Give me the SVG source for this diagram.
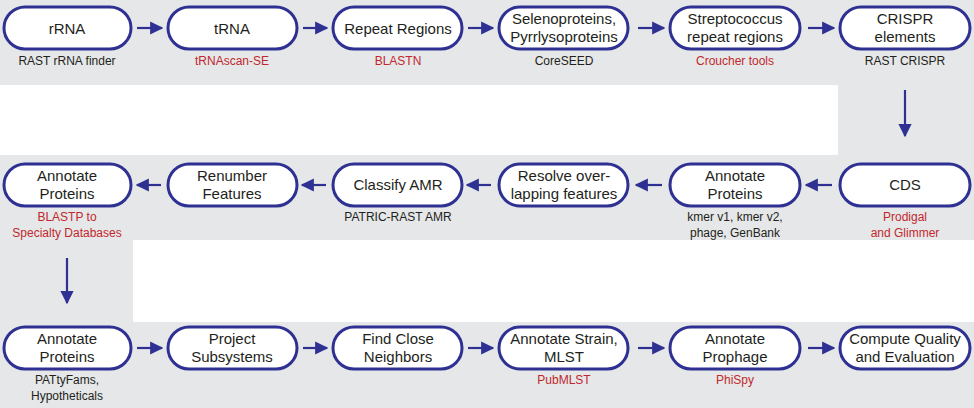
<svg xmlns="http://www.w3.org/2000/svg" width="974" height="408" viewBox="0 0 974 408">
<defs>
<marker id="ah" viewBox="0 0 10 10" refX="9" refY="5" markerWidth="6" markerHeight="6" orient="auto"><path d="M0,0 L10,5 L0,10 z" fill="#2e3192"/></marker>
<style>
.n{fill:#fff;stroke:#2e3192;stroke-width:3}
.t{font-family:"Liberation Sans",Arial,sans-serif;font-size:15px;fill:#231f20;text-anchor:middle}
.l{font-family:"Liberation Sans",Arial,sans-serif;font-size:12px;fill:#231f20;text-anchor:middle}
.r{fill:#c1272d}
.c{stroke:#2e3192;stroke-width:2.2;fill:none;marker-end:url(#ah)}
</style>
</defs>
<rect width="974" height="408" fill="#e6e7e8"/>
<rect x="0" y="85" width="838" height="70" fill="#fff"/>
<rect x="133" y="240" width="841" height="82" fill="#fff"/>
<g id="n1"><rect class="n" x="4" y="7" width="127" height="42" rx="21"/><text class="t" x="67" y="34">rRNA</text><text class="l" x="67" y="65">RAST rRNA finder</text></g>
<g id="n2"><rect class="n" x="168" y="7" width="129" height="42" rx="21"/><text class="t" x="232" y="34">tRNA</text><text class="l r" x="232" y="65">tRNAscan-SE</text></g>
<g id="n3"><rect class="n" x="333" y="7" width="129" height="42" rx="21"/><text class="t" x="398" y="34">Repeat Regions</text><text class="l r" x="398" y="65">BLASTN</text></g>
<g id="n4"><rect class="n" x="499" y="7" width="129" height="42" rx="21"/><text class="t" x="564" y="24">Selenoproteins,</text><text class="t" x="564" y="42">Pyrrlysoproteins</text><text class="l" x="564" y="65">CoreSEED</text></g>
<g id="n5"><rect class="n" x="670" y="7" width="130" height="42" rx="21"/><text class="t" x="735" y="24">Streptococcus</text><text class="t" x="735" y="42">repeat regions</text><text class="l r" x="735" y="65">Croucher tools</text></g>
<g id="n6"><rect class="n" x="840" y="7" width="130" height="42" rx="21"/><text class="t" x="905" y="24">CRISPR</text><text class="t" x="905" y="42">elements</text><text class="l" x="905" y="65">RAST CRISPR</text></g>
<g id="n7"><rect class="n" x="840" y="164" width="130" height="42" rx="21"/><text class="t" x="905" y="190">CDS</text><text class="l r" x="905" y="221">Prodigal</text><text class="l r" x="905" y="237">and Glimmer</text></g>
<g id="n8"><rect class="n" x="670" y="164" width="130" height="42" rx="21"/><text class="t" x="735" y="181">Annotate</text><text class="t" x="735" y="199">Proteins</text><text class="l" x="735" y="221">kmer v1, kmer v2,</text><text class="l" x="735" y="237">phage, GenBank</text></g>
<g id="n9"><rect class="n" x="499" y="164" width="129" height="42" rx="21"/><text class="t" x="564" y="181">Resolve over-</text><text class="t" x="564" y="199">lapping features</text></g>
<g id="n10"><rect class="n" x="333" y="164" width="129" height="42" rx="21"/><text class="t" x="398" y="190">Classify AMR</text><text class="l" x="398" y="221">PATRIC-RAST AMR</text></g>
<g id="n11"><rect class="n" x="168" y="164" width="129" height="42" rx="21"/><text class="t" x="232" y="181">Renumber</text><text class="t" x="232" y="199">Features</text></g>
<g id="n12"><rect class="n" x="4" y="164" width="127" height="42" rx="21"/><text class="t" x="67" y="181">Annotate</text><text class="t" x="67" y="199">Proteins</text><text class="l r" x="67" y="221">BLASTP to</text><text class="l r" x="67" y="237">Specialty Databases</text></g>
<g id="n13"><rect class="n" x="4" y="327" width="127" height="42" rx="21"/><text class="t" x="67" y="344">Annotate</text><text class="t" x="67" y="362">Proteins</text><text class="l" x="67" y="384">PATtyFams,</text><text class="l" x="67" y="400">Hypotheticals</text></g>
<g id="n14"><rect class="n" x="168" y="327" width="129" height="42" rx="21"/><text class="t" x="232" y="344">Project</text><text class="t" x="232" y="362">Subsystems</text></g>
<g id="n15"><rect class="n" x="333" y="327" width="129" height="42" rx="21"/><text class="t" x="398" y="344">Find Close</text><text class="t" x="398" y="362">Neighbors</text></g>
<g id="n16"><rect class="n" x="499" y="327" width="129" height="42" rx="21"/><text class="t" x="564" y="344">Annotate Strain,</text><text class="t" x="564" y="362">MLST</text><text class="l r" x="564" y="384">PubMLST</text></g>
<g id="n17"><rect class="n" x="670" y="327" width="130" height="42" rx="21"/><text class="t" x="735" y="344">Annotate</text><text class="t" x="735" y="362">Prophage</text><text class="l r" x="735" y="384">PhiSpy</text></g>
<g id="n18"><rect class="n" x="840" y="327" width="130" height="42" rx="21"/><text class="t" x="905" y="344">Compute Quality</text><text class="t" x="905" y="362">and Evaluation</text></g>
<g id="connectors">
<line class="c" x1="137" y1="28" x2="162" y2="28"/>
<line class="c" x1="303" y1="28" x2="327" y2="28"/>
<line class="c" x1="468" y1="28" x2="493" y2="28"/>
<line class="c" x1="638" y1="28" x2="664" y2="28"/>
<line class="c" x1="808" y1="28" x2="834" y2="28"/>
<line class="c" x1="905" y1="90" x2="905" y2="136"/>
<line class="c" x1="832" y1="185" x2="806" y2="185"/>
<line class="c" x1="662" y1="185" x2="636" y2="185"/>
<line class="c" x1="491" y1="185" x2="467" y2="185"/>
<line class="c" x1="326" y1="185" x2="302" y2="185"/>
<line class="c" x1="161" y1="185" x2="137" y2="185"/>
<line class="c" x1="67" y1="258" x2="67" y2="303"/>
<line class="c" x1="137" y1="348" x2="162" y2="348"/>
<line class="c" x1="303" y1="348" x2="327" y2="348"/>
<line class="c" x1="468" y1="348" x2="493" y2="348"/>
<line class="c" x1="638" y1="348" x2="664" y2="348"/>
<line class="c" x1="808" y1="348" x2="834" y2="348"/>
</g>
</svg>
